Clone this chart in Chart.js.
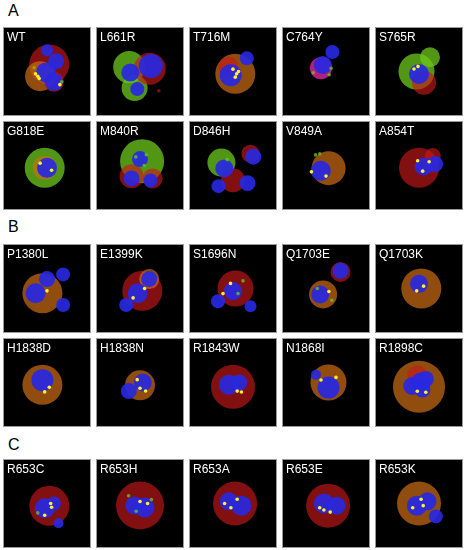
<!DOCTYPE html>
<html><head><meta charset="utf-8">
<script src="https://cdn.jsdelivr.net/npm/chart.js@4"></script>
<style>
body{margin:0;width:467px;height:550px;background:#fff;position:relative;font-family:"Liberation Sans",Arial,sans-serif;overflow:hidden}
.p{position:absolute;width:86px;height:87px;background:#000;outline:1px solid #999;overflow:hidden}
.s{position:absolute;font-size:16px;color:#000}
</style></head><body>
<div class="s" style="left:8px;top:2px">A</div>
<div class="s" style="left:8px;top:218px">B</div>
<div class="s" style="left:8px;top:436px">C</div>
<script>
const labels=["WT","L661R","T716M","C764Y","S765R","G818E","M840R","D846H","V849A","A854T",
"P1380L","E1399K","S1696N","Q1703E","Q1703K","H1838D","H1838N","R1843W","N1868I","R1898C",
"R653C","R653H","R653A","R653E","R653K"];
const rowTops=[28,122,245,339,460];
const colLefts=[4,97,190,283,376];
// cytoplasm [x,y,r,colour]
const cyto=[
[[55,35,20,'r'],[35,60,15,'o'],[65,72,10,'r']],
[[30,42,16,'g'],[40,80,13,'g'],[68,45,16,'r']],
[[55,55,20,'o'],[40,40,10,'r']],
[[42,45,11,'m']],
[[45,50,18,'g'],[72,22,10,'g'],[60,72,12,'r']],
[[45,55,20,'g'],[45,55,12,'o']],
[[55,40,22,'g'],[30,75,12,'r'],[80,80,10,'r']],
[[30,45,14,'g'],[50,75,12,'r'],[80,30,9,'r']],
[[55,55,17,'o']],
[[50,55,20,'r'],[80,30,8,'r']],
[[40,60,20,'o']],
[[55,55,20,'r'],[70,30,10,'o']],
[[55,50,18,'r']],
[[75,22,10,'r'],[45,60,14,'o']],
[[55,50,20,'o']],
[[40,55,20,'o']],
[[50,55,15,'o']],
[[50,60,22,'r']],
[[55,50,18,'o']],
[[50,62,26,'o'],[45,30,10,'r']],
[[55,55,20,'r']],
[[50,55,24,'r']],
[[55,50,22,'r']],
[[55,55,22,'r']],
[[50,50,22,'o']]];
// nuclei [x,y,r]
const nuc=[
[[48,52,10],[70,28,8],[65,72,9],[50,5,6]],
[[32,52,9],[70,40,12],[45,82,7]],
[[45,58,11],[80,22,7]],
[[45,40,9],[60,20,7]],
[[50,55,10]],
[[50,55,10]],
[[50,35,8],[30,80,8],[75,85,7]],
[[35,55,9],[75,80,8],[85,35,8],[25,85,7]],
[[40,60,10]],
[[60,52,9],[85,47,8]],
[[25,60,10],[50,30,8],[85,20,7],[85,85,7]],
[[45,60,10],[70,30,8],[20,85,7]],
[[50,55,9],[20,75,7],[85,85,6]],
[[75,20,8],[40,60,9]],
[[50,40,9]],
[[40,45,11]],
[[30,65,8],[55,50,9]],
[[40,55,10],[65,50,8]],
[[55,60,11],[30,35,5]],
[[30,60,9],[55,50,10],[70,40,8],[60,70,8]],
[[45,60,10],[65,50,7],[75,92,5]],
[[35,55,9],[62,60,10]],
[[40,45,9],[70,55,10]],
[[45,50,10],[75,55,9]],
[[45,55,10],[70,45,9],[90,80,7]]];
// puncta [x,y,colour]
const dots=[
[[25,55,'y'],[30,60,'y'],[33,65,'y'],[78,78,'y'],[82,72,'g'],[22,42,'g']],
[[85,85,'r']],
[[50,45,'y'],[58,55,'y'],[55,62,'y'],[62,50,'y']],
[[30,52,'g'],[55,55,'g'],[58,45,'g']],
[[40,45,'y'],[48,40,'y']],
[[35,45,'y'],[60,60,'y']],
[[40,30,'g'],[65,25,'g'],[60,50,'g']],
[[40,40,'g']],
[[22,62,'y'],[50,70,'y'],[30,30,'g'],[38,28,'g']],
[[47,40,'y'],[72,42,'y'],[58,62,'y']],
[[50,55,'y']],
[[60,50,'y'],[35,70,'y']],
[[45,40,'y'],[60,60,'g'],[70,35,'g'],[30,60,'y']],
[[35,50,'g'],[55,55,'y'],[60,70,'g']],
[[45,55,'y'],[60,45,'y']],
[[55,60,'y'],[45,70,'y']],
[[50,60,'y'],[60,65,'y'],[45,45,'y']],
[[60,70,'y'],[70,72,'y']],
[[70,40,'y'],[40,45,'y']],
[[45,75,'y'],[70,78,'y']],
[[58,50,'y'],[60,58,'y'],[45,75,'y'],[30,70,'g']],
[[50,45,'y'],[70,50,'y'],[40,70,'g'],[80,40,'g'],[20,30,'g']],
[[45,60,'y'],[30,50,'y'],[60,40,'y']],
[[35,60,'y'],[45,65,'y'],[60,70,'y']],
[[55,40,'y'],[60,55,'y'],[35,60,'y']]];
const colours={r:'rgba(200,25,25,0.65)',o:'rgba(205,110,20,0.7)',g:'rgba(110,200,30,0.75)',m:'rgba(220,40,160,0.8)',y:'#fff030',b:'rgba(40,40,225,0.92)'};
const labelPlugin={id:'lbl',afterDraw(c){const x=c.ctx;x.save();x.fillStyle='#fff';x.font='12px "Liberation Sans",Arial';x.textBaseline='top';x.fillText(c.options.plugins.lbl.text,3,4);x.restore();}};
labels.forEach((lab,i)=>{
  const d=document.createElement('div');d.className='p';
  d.style.left=colLefts[i%5]+'px';d.style.top=rowTops[Math.floor(i/5)]+'px';
  const cv=document.createElement('canvas');d.appendChild(cv);document.body.appendChild(d);
  new Chart(cv,{type:'bubble',
    data:{datasets:[
      {data:dots[i].map(a=>({x:a[0],y:a[1],r:1.8})),backgroundColor:dots[i].map(a=>colours[a[2]]),borderWidth:0,clip:false},
      {data:nuc[i].map(a=>({x:a[0],y:a[1],r:a[2]})),backgroundColor:colours.b,borderWidth:0,clip:false},
      {data:cyto[i].map(a=>({x:a[0],y:a[1],r:a[2]})),backgroundColor:cyto[i].map(a=>colours[a[3]]),borderWidth:0,clip:false}]},
    options:{responsive:true,maintainAspectRatio:false,animation:false,layout:{padding:0},
      scales:{x:{display:false,min:0,max:100},y:{display:false,min:0,max:100,reverse:true}},
      plugins:{legend:{display:false},tooltip:{enabled:false},lbl:{text:lab}}},
    plugins:[labelPlugin]});
});
</script></body></html>
